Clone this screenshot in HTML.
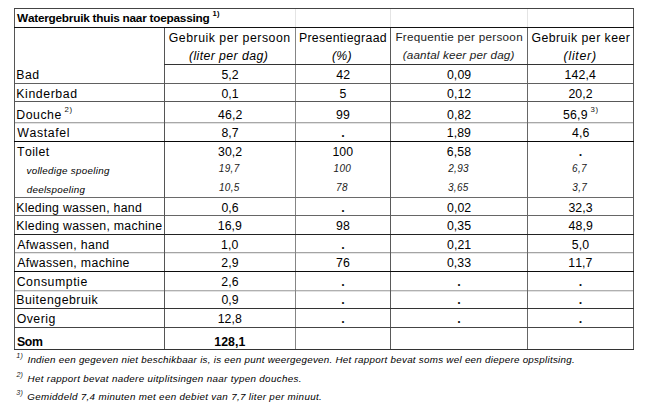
<!DOCTYPE html>
<html lang="nl"><head><meta charset="utf-8"><title>Watergebruik thuis naar toepassing</title>
<style>
html,body{margin:0;padding:0;background:#fff;}
body{width:647px;height:417px;position:relative;overflow:hidden;font-family:"Liberation Sans", sans-serif;color:#000;}
.l{position:absolute;}
.t{position:absolute;white-space:nowrap;line-height:16px;font-kerning:none;}
.b{font-weight:bold;}
.i{font-style:italic;}
</style></head>
<body>
<div class="l" style="left:15px;top:253px;width:618px;height:1px;background:#e6e6e6"></div>
<div class="l" style="left:295px;top:9px;width:1px;height:18px;background:#e4e4e4"></div>
<div class="l" style="left:390px;top:9px;width:1px;height:18px;background:#e4e4e4"></div>
<div class="l" style="left:527px;top:9px;width:1px;height:18px;background:#e4e4e4"></div>
<div class="l" style="left:15px;top:123px;width:618px;height:1px;background:#e2e2e2"></div>
<div class="l" style="left:15px;top:291px;width:618px;height:1px;background:#e2e2e2"></div>
<div class="l" style="left:14px;top:290px;width:620px;height:1px;background:#b0b0b0"></div>
<div class="l" style="left:14px;top:122px;width:620px;height:1px;background:#a8a8a8"></div>
<div class="l" style="left:14px;top:252px;width:620px;height:1px;background:#a4a4a4"></div>
<div class="l" style="left:295px;top:27px;width:1px;height:323px;background:#858585"></div>
<div class="l" style="left:14px;top:197px;width:620px;height:1px;background:#6a6a6a"></div>
<div class="l" style="left:14px;top:215px;width:620px;height:1px;background:#666"></div>
<div class="l" style="left:527px;top:27px;width:1px;height:323px;background:#666"></div>
<div class="l" style="left:14px;top:83px;width:620px;height:1px;background:#606060"></div>
<div class="l" style="left:390px;top:27px;width:1px;height:323px;background:#5a5a5a"></div>
<div class="l" style="left:14px;top:101px;width:620px;height:1px;background:#585858"></div>
<div class="l" style="left:14px;top:8px;width:1px;height:342px;background:#555"></div>
<div class="l" style="left:164px;top:27px;width:1px;height:323px;background:#555"></div>
<div class="l" style="left:633px;top:8px;width:1px;height:342px;background:#555"></div>
<div class="l" style="left:14px;top:8px;width:620px;height:1px;background:#444"></div>
<div class="l" style="left:14px;top:327px;width:620px;height:1px;background:#444"></div>
<div class="l" style="left:164px;top:64px;width:470px;height:1px;background:#333"></div>
<div class="l" style="left:14px;top:308px;width:620px;height:1px;background:#333"></div>
<div class="l" style="left:14px;top:349px;width:620px;height:1px;background:#333"></div>
<div class="l" style="left:14px;top:234px;width:620px;height:1px;background:#222"></div>
<div class="l" style="left:14px;top:27px;width:620px;height:1px;background:#111"></div>
<div class="l" style="left:14px;top:271px;width:620px;height:1px;background:#0c0c0c"></div>
<div class="l" style="left:14px;top:141px;width:620px;height:1px;background:#080808"></div>
<div class="t b" style="left:16.99px;top:10px;font-size:11.8px;letter-spacing:-0.238px;">Watergebruik thuis naar toepassing</div>
<div class="t b" style="left:212.52px;top:6px;font-size:7.6px;letter-spacing:0.200px;">1)</div>
<div class="t" style="left:168.78px;top:30px;font-size:12.3px;letter-spacing:0.516px;">Gebruik per persoon</div>
<div class="t i" style="left:188.92px;top:48px;font-size:12.3px;letter-spacing:0.412px;">(liter per dag)</div>
<div class="t" style="left:298.89px;top:30px;font-size:12.3px;letter-spacing:0.337px;">Presentiegraad</div>
<div class="t i" style="left:331.92px;top:48px;font-size:12.3px;letter-spacing:0.240px;">(%)</div>
<div class="t" style="left:395.44px;top:29px;font-size:11.7px;letter-spacing:0.271px;color:#1c1c1c;">Frequentie per persoon</div>
<div class="t i" style="left:402.75px;top:47px;font-size:11.7px;letter-spacing:0.157px;color:#1c1c1c;">(aantal keer per dag)</div>
<div class="t" style="left:531.38px;top:30px;font-size:12.3px;letter-spacing:0.461px;">Gebruik per keer</div>
<div class="t i" style="left:563.62px;top:48px;font-size:12.3px;letter-spacing:0.733px;">(liter)</div>
<div class="t" style="left:16.29px;top:67px;font-size:12.3px;letter-spacing:0.508px;">Bad</div>
<div class="t" style="left:221.41px;top:67px;font-size:12.3px;letter-spacing:0.100px;">5,2</div>
<div class="t" style="left:336.28px;top:67px;font-size:12.3px;letter-spacing:0.100px;">42</div>
<div class="t" style="left:446.93px;top:67px;font-size:12.3px;letter-spacing:0.100px;">0,09</div>
<div class="t" style="left:564.62px;top:67px;font-size:12.3px;letter-spacing:0.100px;">142,4</div>
<div class="t" style="left:16.29px;top:86px;font-size:12.3px;letter-spacing:0.591px;">Kinderbad</div>
<div class="t" style="left:221.41px;top:86px;font-size:12.3px;letter-spacing:0.100px;">0,1</div>
<div class="t" style="left:339.59px;top:86px;font-size:12.3px;letter-spacing:0.100px;">5</div>
<div class="t" style="left:446.95px;top:86px;font-size:12.3px;letter-spacing:0.100px;">0,12</div>
<div class="t" style="left:568.38px;top:86px;font-size:12.3px;letter-spacing:0.100px;">20,2</div>
<div class="t" style="left:16.29px;top:107px;font-size:12.3px;letter-spacing:0.512px;">Douche</div>
<div class="t" style="left:218.05px;top:107px;font-size:12.3px;letter-spacing:0.100px;">46,2</div>
<div class="t" style="left:336.11px;top:107px;font-size:12.3px;letter-spacing:0.100px;">99</div>
<div class="t" style="left:446.95px;top:107px;font-size:12.3px;letter-spacing:0.100px;">0,82</div>
<div class="t" style="left:562.91px;top:107px;font-size:12.3px;letter-spacing:0.212px;">56,9</div>
<div class="t" style="left:17.25px;top:125px;font-size:12.3px;letter-spacing:0.618px;">Wastafel</div>
<div class="t" style="left:221.39px;top:125px;font-size:12.3px;letter-spacing:0.100px;">8,7</div>
<div class="t b" style="left:341.26px;top:125px;font-size:12.6px;letter-spacing:0.000px;color:#111;">.</div>
<div class="t" style="left:446.70px;top:125px;font-size:12.3px;letter-spacing:0.100px;">1,89</div>
<div class="t" style="left:571.98px;top:125px;font-size:12.3px;letter-spacing:0.100px;">4,6</div>
<div class="t" style="left:17.02px;top:144px;font-size:12.3px;letter-spacing:0.418px;">Toilet</div>
<div class="t" style="left:217.96px;top:144px;font-size:12.3px;letter-spacing:0.100px;">30,2</div>
<div class="t" style="left:332.41px;top:144px;font-size:12.3px;letter-spacing:0.100px;">100</div>
<div class="t" style="left:446.84px;top:144px;font-size:12.3px;letter-spacing:0.100px;">6,58</div>
<div class="t b" style="left:578.76px;top:144px;font-size:12.6px;letter-spacing:0.000px;color:#111;">.</div>
<div class="t i" style="left:26.46px;top:163px;font-size:9.8px;letter-spacing:0.295px;">volledige spoeling</div>
<div class="t i" style="left:218.84px;top:161px;font-size:10px;letter-spacing:0.300px;color:#1a1a1a;">19,7</div>
<div class="t i" style="left:333.57px;top:161px;font-size:10px;letter-spacing:0.300px;color:#1a1a1a;">100</div>
<div class="t i" style="left:448.19px;top:161px;font-size:10px;letter-spacing:0.300px;color:#1a1a1a;">2,93</div>
<div class="t i" style="left:572.11px;top:161px;font-size:10px;letter-spacing:0.300px;color:#1a1a1a;">6,7</div>
<div class="t i" style="left:26.67px;top:182px;font-size:9.8px;letter-spacing:0.298px;">deelspoeling</div>
<div class="t i" style="left:218.98px;top:180px;font-size:10px;letter-spacing:0.300px;color:#1a1a1a;">10,5</div>
<div class="t i" style="left:336.10px;top:180px;font-size:10px;letter-spacing:0.300px;color:#1a1a1a;">78</div>
<div class="t i" style="left:447.99px;top:180px;font-size:10px;letter-spacing:0.300px;color:#1a1a1a;">3,65</div>
<div class="t i" style="left:572.28px;top:180px;font-size:10px;letter-spacing:0.300px;color:#1a1a1a;">3,7</div>
<div class="t" style="left:16.29px;top:200px;font-size:12.3px;letter-spacing:0.271px;">Kleding wassen, hand</div>
<div class="t" style="left:221.38px;top:200px;font-size:12.3px;letter-spacing:0.100px;">0,6</div>
<div class="t b" style="left:341.26px;top:200px;font-size:12.6px;letter-spacing:0.000px;color:#111;">.</div>
<div class="t" style="left:446.95px;top:200px;font-size:12.3px;letter-spacing:0.100px;">0,02</div>
<div class="t" style="left:568.42px;top:200px;font-size:12.3px;letter-spacing:0.100px;">32,3</div>
<div class="t" style="left:16.29px;top:218px;font-size:12.3px;letter-spacing:0.285px;">Kleding wassen, machine</div>
<div class="t" style="left:217.70px;top:218px;font-size:12.3px;letter-spacing:0.100px;">16,9</div>
<div class="t" style="left:336.09px;top:218px;font-size:12.3px;letter-spacing:0.100px;">98</div>
<div class="t" style="left:446.90px;top:218px;font-size:12.3px;letter-spacing:0.100px;">0,35</div>
<div class="t" style="left:568.53px;top:218px;font-size:12.3px;letter-spacing:0.100px;">48,9</div>
<div class="t" style="left:17.28px;top:237px;font-size:12.3px;letter-spacing:0.338px;">Afwassen, hand</div>
<div class="t" style="left:221.12px;top:237px;font-size:12.3px;letter-spacing:0.100px;">1,0</div>
<div class="t b" style="left:341.26px;top:237px;font-size:12.6px;letter-spacing:0.000px;color:#111;">.</div>
<div class="t" style="left:446.94px;top:237px;font-size:12.3px;letter-spacing:0.100px;">0,21</div>
<div class="t" style="left:571.84px;top:237px;font-size:12.3px;letter-spacing:0.100px;">5,0</div>
<div class="t" style="left:17.28px;top:255px;font-size:12.3px;letter-spacing:0.345px;">Afwassen, machine</div>
<div class="t" style="left:221.33px;top:255px;font-size:12.3px;letter-spacing:0.100px;">2,9</div>
<div class="t" style="left:336.06px;top:255px;font-size:12.3px;letter-spacing:0.100px;">76</div>
<div class="t" style="left:446.91px;top:255px;font-size:12.3px;letter-spacing:0.100px;">0,33</div>
<div class="t" style="left:568.22px;top:255px;font-size:12.3px;letter-spacing:0.100px;">11,7</div>
<div class="t" style="left:16.68px;top:274px;font-size:12.3px;letter-spacing:0.549px;">Consumptie</div>
<div class="t" style="left:221.31px;top:274px;font-size:12.3px;letter-spacing:0.100px;">2,6</div>
<div class="t b" style="left:341.26px;top:274px;font-size:12.6px;letter-spacing:0.000px;color:#111;">.</div>
<div class="t b" style="left:457.26px;top:274px;font-size:12.6px;letter-spacing:0.000px;color:#111;">.</div>
<div class="t b" style="left:578.76px;top:274px;font-size:12.6px;letter-spacing:0.000px;color:#111;">.</div>
<div class="t" style="left:16.29px;top:292px;font-size:12.3px;letter-spacing:0.523px;">Buitengebruik</div>
<div class="t" style="left:221.40px;top:292px;font-size:12.3px;letter-spacing:0.100px;">0,9</div>
<div class="t b" style="left:341.26px;top:292px;font-size:12.6px;letter-spacing:0.000px;color:#111;">.</div>
<div class="t b" style="left:457.26px;top:292px;font-size:12.6px;letter-spacing:0.000px;color:#111;">.</div>
<div class="t b" style="left:578.76px;top:292px;font-size:12.6px;letter-spacing:0.000px;color:#111;">.</div>
<div class="t" style="left:16.72px;top:311px;font-size:12.3px;letter-spacing:0.470px;">Overig</div>
<div class="t" style="left:217.68px;top:311px;font-size:12.3px;letter-spacing:0.100px;">12,8</div>
<div class="t b" style="left:341.26px;top:311px;font-size:12.6px;letter-spacing:0.000px;color:#111;">.</div>
<div class="t b" style="left:457.26px;top:311px;font-size:12.6px;letter-spacing:0.000px;color:#111;">.</div>
<div class="t b" style="left:578.76px;top:311px;font-size:12.6px;letter-spacing:0.000px;color:#111;">.</div>
<div class="t b" style="left:16.95px;top:334px;font-size:12.3px;letter-spacing:-0.368px;">Som</div>
<div class="t b" style="left:214.19px;top:334px;font-size:12.3px;letter-spacing:0.100px;">128,1</div>
<div class="t" style="left:64.51px;top:102px;font-size:7.8px;letter-spacing:0.641px;color:#111;">2)</div>
<div class="t" style="left:590.60px;top:102px;font-size:7.8px;letter-spacing:0.445px;color:#111;">3)</div>
<div class="t i" style="left:16.31px;top:348px;font-size:7.2px;letter-spacing:0.313px;color:#1a1a1a;">1)</div>
<div class="t i" style="left:27.41px;top:352px;font-size:9.8px;letter-spacing:0.274px;">Indien een gegeven niet beschikbaar is, is een punt weergegeven. Het rapport bevat soms wel een diepere opsplitsing.</div>
<div class="t i" style="left:16.54px;top:367px;font-size:7.2px;letter-spacing:0.085px;color:#1a1a1a;">2)</div>
<div class="t i" style="left:27.50px;top:371px;font-size:9.8px;letter-spacing:0.334px;">Het rapport bevat nadere uitplitsingen naar typen douches.</div>
<div class="t i" style="left:16.33px;top:385px;font-size:7.2px;letter-spacing:0.296px;color:#1a1a1a;">3)</div>
<div class="t i" style="left:27.32px;top:389px;font-size:9.8px;letter-spacing:0.336px;">Gemiddeld 7,4 minuten met een debiet van 7,7 liter per minuut.</div>
</body></html>
